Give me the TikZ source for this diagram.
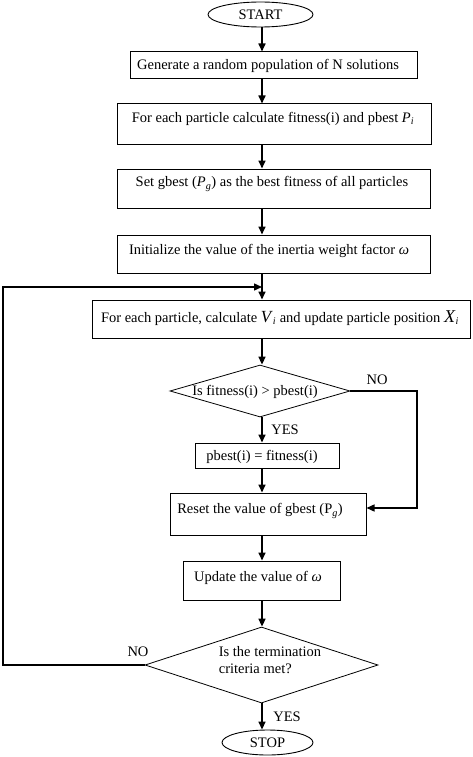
\documentclass[tikz,border=0pt]{standalone}
\usepackage{fontspec}
\setmainfont{Liberation Serif}
\usetikzlibrary{shapes.geometric,arrows.meta}
\begin{document}
\begin{tikzpicture}[x=1pt,y=-1pt,
  box/.style={draw,line width=1pt,inner sep=0pt,rectangle},
  dia/.style={draw,line width=0.8pt,diamond,inner sep=0pt},
  term/.style={draw,line width=0.9pt,ellipse,inner sep=0pt,font=\fontsize{14.5}{16}\selectfont},
  txt/.style={inner sep=0pt,font=\fontsize{14.5}{16.5}\selectfont},
  lbl/.style={inner sep=0pt,font=\fontsize{14.5}{16}\selectfont},
  arr/.style={line width=1.6pt,-{Triangle[length=8pt,width=7pt]}},
  loopline/.style={line width=1.4pt,-{Triangle[length=8pt,width=7pt]}},
]
\path[fill=white,use as bounding box] (0,0) rectangle (472,757);
\coordinate (ax) at (262,0);
\coordinate (lx) at (3,0);
\coordinate (rx) at (417,0);
\coordinate (jn) at (262,287);

% terminals
\node[term,minimum width=105pt,minimum height=25pt] (start) at (260.5,14.5) {START};
\node[term,minimum width=91pt,minimum height=25pt] (stop) at (267.5,742.5) {STOP};

% boxes
\node[box,minimum width=287pt,minimum height=27pt] (b1) at (273.5,65.5) {};
\node[txt] (t1) at (268,66) {Generate a random population of N solutions};

\node[box,minimum width=314pt,minimum height=40pt] (b2) at (274,124) {};
\node[txt] (t2) at (273,119) {For each particle calculate fitness(i) and pbest \textit{P}\textsubscript{\textit{i}}};

\node[box,minimum width=313pt,minimum height=39pt] (b3) at (273.5,188.5) {};
\node[txt] (t3) at (272,184) {Set gbest (\textit{P}\textsubscript{\textit{g}}) as the best fitness of all particles};

\node[box,minimum width=313pt,minimum height=38pt] (b4) at (273.5,254) {};
\node[txt] (t4) at (269,251) {Initialize the value of the inertia weight factor \textit{ω}};

\node[box,minimum width=378pt,minimum height=38pt] (b5) at (281,319) {};
\node[txt] (t5) at (280,318) {For each particle, calculate {\fontsize{17}{17}\selectfont\textit{V}}\textsubscript{\textit{i}} and update particle position {\fontsize{18}{18}\selectfont\textit{X}}\textsubscript{\textit{i}}};

\node[dia,minimum width=180pt,minimum height=52pt] (d1) at (260,391) {};
\node[txt] (td1) at (255,392) {Is fitness(i) > pbest(i)};

\node[box,minimum width=144pt,minimum height=25pt] (b6) at (267,455.5) {};
\node[txt] (t6) at (262,457) {pbest(i) = fitness(i)};

\node[box,minimum width=196pt,minimum height=42pt] (b7) at (268,514) {};
\node[txt] (t7) at (260,511) {Reset the value of gbest (P\textsubscript{\textit{g}})};

\node[box,minimum width=157pt,minimum height=39pt] (b8) at (261.5,580.5) {};
\node[txt] (t8) at (258,578) {Update the value of \textit{ω}};

\node[dia,minimum width=233pt,minimum height=76pt] (d2) at (261.5,665) {};
\node[txt,align=left] (td2) at (270,660) {Is the termination\\criteria met?};

% labels
\node[lbl] (no1) at (377,380) {NO};
\node[lbl] (yes1) at (285,430) {YES};
\node[lbl] (no2) at (138,652) {NO};
\node[lbl] (yes2) at (287,717) {YES};

\coordinate (n7) at ([yshift=6pt]b7.east);

% connectors
\draw[arr] (start.south -| ax) -- (b1.north -| ax);
\draw[arr] (b1.south -| ax) -- (b2.north -| ax);
\draw[arr] (b2.south -| ax) -- (b3.north -| ax);
\draw[arr] (b3.south -| ax) -- (b4.north -| ax);
\draw[arr] (b4.south -| ax) -- (b5.north -| ax);
\draw[arr] (b5.south -| ax) -- (d1.north -| ax);
\draw[arr] (d1.south -| ax) -- (b6.north -| ax);
\draw[arr] (b6.south -| ax) -- (b7.north -| ax);
\draw[arr] (b7.south -| ax) -- (b8.north -| ax);
\draw[arr] (b8.south -| ax) -- (d2.north -| ax);
\draw[arr] (d2.south -| ax) -- (stop.north -| ax);
\draw[loopline] (d1.east) -- (d1.east -| rx) -- (rx |- n7) -- (n7);
\draw[loopline] (d2.west) -- (d2.west -| lx) -- (lx |- jn) -- (jn);
\end{tikzpicture}
\end{document}
